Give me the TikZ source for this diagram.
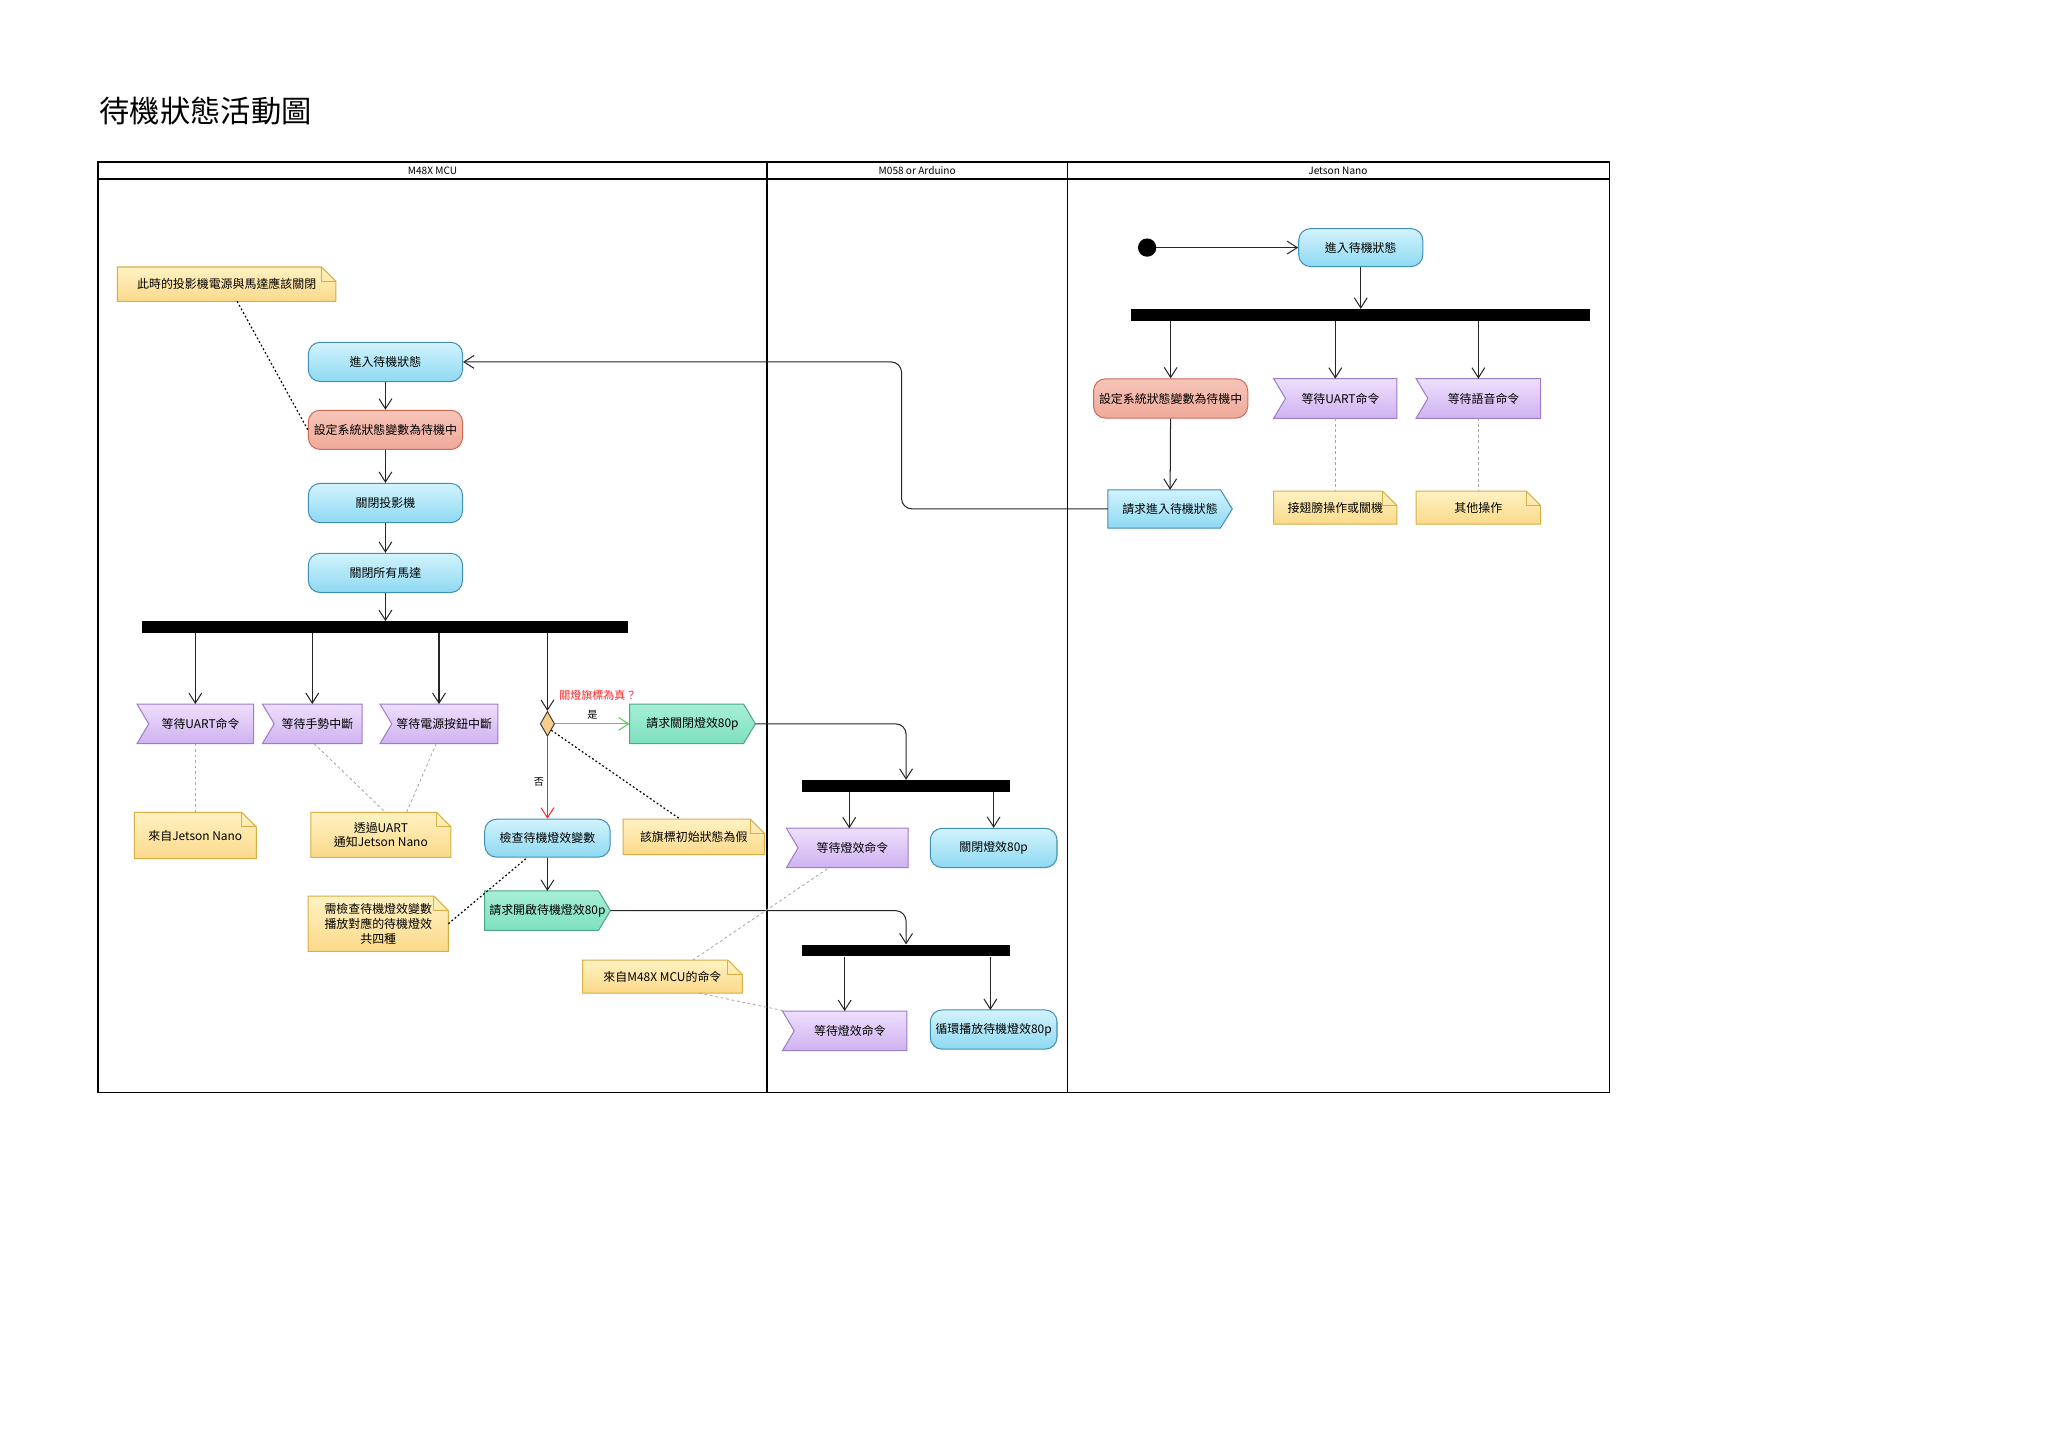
\documentclass[tikz,border=0pt]{standalone}
\usepackage{fontspec}
\setmainfont{Noto Sans CJK TC}
\usetikzlibrary{arrows.meta,backgrounds,calc,shapes.geometric}
\pgfdeclarelayer{bottom}
\pgfsetlayers{bottom,background,main}
\definecolor{bluefa}{HTML}{D2F3FC}\definecolor{bluefb}{HTML}{8ED9F2}\definecolor{bluedr}{HTML}{3F8EB5}
\definecolor{redfa}{HTML}{F6C4B8}\definecolor{redfb}{HTML}{EFAA9A}\definecolor{reddr}{HTML}{CF6A55}
\definecolor{purfa}{HTML}{EEDFFC}\definecolor{purfb}{HTML}{CFB2F0}\definecolor{purdr}{HTML}{9C7CCB}
\definecolor{grnfa}{HTML}{A6EFD6}\definecolor{grnfb}{HTML}{7EE0C0}\definecolor{grndr}{HTML}{4DA88A}
\definecolor{yelfa}{HTML}{FFF2C2}\definecolor{yelfb}{HTML}{FBD98A}\definecolor{yeldr}{HTML}{D9AE45}
\definecolor{diafill}{HTML}{F8CD8C}
\tikzset{
 txt/.style={font=\fontsize{13}{16}\selectfont, align=center, inner sep=0pt},
 act/.style={txt, draw=bluedr, line width=1.1pt, rounded corners=0.45cm, top color=bluefa, bottom color=bluefb},
 actred/.style={txt, draw=reddr, line width=1.1pt, rounded corners=0.45cm, top color=redfa, bottom color=redfb},
 plain/.style={txt},
 rcvst/.style={draw=purdr, line width=1.1pt, top color=purfa, bottom color=purfb},
 sndg/.style={draw=grndr, line width=1.1pt, top color=grnfa, bottom color=grnfb},
 sndb/.style={draw=bluedr, line width=1.1pt, top color=bluefa, bottom color=bluefb},
 notest/.style={draw=yeldr, line width=1.1pt, top color=yelfa, bottom color=yelfb},
 bar/.style={fill=black, inner sep=0pt},
 arr/.style={-{Straight Barb[length=11pt,width=14pt]}, line width=1.1pt, draw=black!85},
 notelink/.style={dash pattern=on 2pt off 2.5pt, line width=1.3pt},
 greylink/.style={dashed, draw=black!35, line width=0.9pt},
 lane/.style={draw, line width=1.6pt},
}
\newcommand\rcvshape[1]{\begin{scope}[on background layer]\path[rcvst] (#1.north west) -- (#1.north east) -- (#1.south east) -- (#1.south west) -- ([xshift=0.45cm]#1.west) -- cycle;\end{scope}}
\newcommand\sndshape[2]{\begin{scope}[on background layer]\path[#2] (#1.north west) -- ([xshift=-0.45cm]#1.north east) -- (#1.east) -- ([xshift=-0.45cm]#1.south east) -- (#1.south west) -- cycle;\end{scope}}
\newcommand\noteshape[1]{\begin{scope}[on background layer]\path[notest] (#1.north west) -- ([xshift=-0.55cm]#1.north east) -- ([yshift=-0.55cm]#1.north east) -- (#1.south east) -- (#1.south west) -- cycle;
\draw[yeldr, line width=1.1pt] ([xshift=-0.55cm]#1.north east) -- ([xshift=-0.55cm,yshift=-0.55cm]#1.north east) -- ([yshift=-0.55cm]#1.north east);\end{scope}}
\begin{document}
\begin{tikzpicture}[x=0.05cm,y=-0.05cm]
\begin{pgfonlayer}{bottom}\fill[white] (0,0) rectangle (1567.5,1107.8);\end{pgfonlayer}
\useasboundingbox (0,0) rectangle (1567.5,1107.8);
% title
\node[anchor=west, font=\fontsize{33}{36}\selectfont, inner sep=0pt] (title) at (76,85) {待機狀態活動圖};
% lanes
\draw[lane] (75,124) rectangle (1232,836);
\draw[lane] (75,137) -- (1232,137);
\draw[lane] (587,124) -- (587,836);
\draw[lane] (817,124) -- (817,836);
\node[font=\fontsize{11}{12}\selectfont] (l1) at (331,130.5) {M48X MCU};
\node[font=\fontsize{11}{12}\selectfont] (l2) at (702,130.5) {M058 or Arduino};
\node[font=\fontsize{11}{12}\selectfont] (l3) at (1024,130.5) {Jetson Nano};

% ---- left lane
\node[plain, minimum width=8.35cm, minimum height=1.3cm] (n1) at (173.5,217.5) {此時的投影機電源與馬達應該關閉}; \noteshape{n1}
\node[act, minimum width=5.9cm, minimum height=1.5cm] (a1) at (295,277) {進入待機狀態};
\node[actred, minimum width=5.9cm, minimum height=1.5cm] (a2) at (295,329) {設定系統狀態變數為待機中};
\node[act, minimum width=5.9cm, minimum height=1.5cm] (a3) at (295,385) {關閉投影機};
\node[act, minimum width=5.9cm, minimum height=1.5cm] (a4) at (295,438.5) {關閉所有馬達};
\node[bar, minimum width=18.6cm, minimum height=0.45cm] (f1) at (295,480) {};
\node[plain, minimum width=4.45cm, minimum height=1.5cm] (r1) at (149.5,554) {\hspace{0.4cm}等待UART命令}; \rcvshape{r1}
\node[plain, minimum width=3.8cm, minimum height=1.5cm] (r2) at (239,554) {\hspace{0.4cm}等待手勢中斷}; \rcvshape{r2}
\node[plain, minimum width=4.5cm, minimum height=1.5cm] (r3) at (336,554) {\hspace{0.4cm}等待電源按鈕中斷}; \rcvshape{r3}
\node[draw=black!80, fill=diafill, line width=1pt, shape=diamond, aspect=0.55, minimum width=0.55cm, minimum height=0.95cm, inner sep=0pt] (d) at (419,554) {};
\node[plain, minimum width=4.8cm, minimum height=1.5cm] (s1) at (530,554) {請求關閉燈效80p}; \sndshape{s1}{sndg}
\node[act, minimum width=4.8cm, minimum height=1.45cm] (b1) at (419,641.5) {檢查待機燈效變數};
\node[plain, minimum width=4.8cm, minimum height=1.5cm] (s2) at (419,697) {請求開啟待機燈效80p}; \sndshape{s2}{sndg}
\node[plain, minimum width=4.65cm, minimum height=1.75cm] (n2) at (149.5,639.5) {來自Jetson Nano}; \noteshape{n2}
\node[plain, minimum width=5.35cm, minimum height=1.7cm] (n3) at (291.5,639) {透過UART\\通知Jetson Nano}; \noteshape{n3}
\node[plain, minimum width=5.4cm, minimum height=1.35cm] (n4) at (531,640.5) {該旗標初始狀態為假}; \noteshape{n4}
\node[plain, minimum width=5.35cm, minimum height=2.1cm] (n5) at (289.5,707) {需檢查待機燈效變數\\播放對應的待機燈效\\共四種}; \noteshape{n5}
\node[plain, minimum width=6.1cm, minimum height=1.25cm] (n6) at (507,747.5) {來自M48X MCU的命令}; \noteshape{n6}

\draw[arr] (a1) -- (a2);
\draw[arr] (a2) -- (a3);
\draw[arr] (a3) -- (a4);
\draw[arr] (a4) -- (f1);
\draw[arr] (f1.south -| r1.north) -- (r1.north);
\draw[arr] (f1.south -| r2.north) -- (r2.north);
\draw[arr] (f1.south -| r3.north) -- (r3.north);
\draw[arr] (f1.south -| d.north) -- (d.north);
\draw[arr, draw=green!75!black!70] (d.east) -- node[above, font=\fontsize{11}{12}\selectfont, pos=0.5, yshift=1pt] (yes) {是} (s1.west);
\draw[arr, draw=red!85] (d.south) -- node[left, font=\fontsize{11}{12}\selectfont, pos=0.55] (no) {否} (b1.north);
\node[anchor=south west, text=red!85, font=\fontsize{12}{13}\selectfont, inner sep=0pt] (q) at (428,536) {關燈旗標為真？};
\draw[arr] (b1) -- (s2);
\draw[notelink] (n1.south) ++(8,0) coordinate (n1a) -- (a2.west);
\draw[notelink] (d.south east) -- ([xshift=-15]n4.north);
\draw[notelink] (n5.east) -- ([xshift=-22]b1.south);
\draw[greylink] (r1.south) -- (n2.north);
\draw[greylink] ([xshift=2]r2.south) -- ([xshift=5]n3.north);
\draw[greylink] ([xshift=-3]r3.south) -- ([xshift=28]n3.north);

% ---- middle lane
\node[bar, minimum width=7.95cm, minimum height=0.45cm] (f2) at (693.5,601.5) {};
\node[plain, minimum width=4.65cm, minimum height=1.5cm] (r4) at (648.5,649) {\hspace{0.4cm}等待燈效命令}; \rcvshape{r4}
\node[act, minimum width=4.85cm, minimum height=1.5cm] (a5) at (760.5,649) {關閉燈效80p};
\node[bar, minimum width=7.95cm, minimum height=0.45cm] (f3) at (693.5,727.5) {};
\node[plain, minimum width=4.75cm, minimum height=1.5cm] (r5) at (646.5,789) {\hspace{0.4cm}等待燈效命令}; \rcvshape{r5}
\node[act, minimum width=4.85cm, minimum height=1.5cm] (a6) at (760.5,788) {循環播放待機燈效80p};
\draw[arr, rounded corners=0.4cm] (s1.east) -| (f2.north);
\draw[arr, rounded corners=0.4cm] (s2.east) -| (f3.north);
\draw[arr] (f2.south -| 650,0) -- (650,634);
\draw[arr] (f2.south -| a5.north) -- (a5.north);
\draw[arr] (f3.south -| r5.north) -- (r5.north);
\draw[arr] (f3.south -| 758,0) -- (758,773);
\draw[greylink] ([xshift=33]n6.north) -- ([xshift=-20]r4.south);
\draw[greylink] ([xshift=40]n6.south) -- ([xshift=3]r5.north west);

% ---- right lane
\node[circle, fill=black, minimum size=0.7cm, inner sep=0pt] (st) at (878,189.5) {};
\node[act, minimum width=4.75cm, minimum height=1.45cm] (a7) at (1041.5,189.5) {進入待機狀態};
\node[bar, minimum width=17.55cm, minimum height=0.45cm] (f4) at (1041.5,241) {};
\node[actred, minimum width=5.9cm, minimum height=1.5cm] (a8) at (896,305) {設定系統狀態變數為待機中};
\node[plain, minimum width=4.7cm, minimum height=1.5cm] (r6) at (1022,305) {\hspace{0.4cm}等待UART命令}; \rcvshape{r6}
\node[plain, minimum width=4.75cm, minimum height=1.5cm] (r7) at (1131.5,305) {\hspace{0.4cm}等待語音命令}; \rcvshape{r7}
\node[plain, minimum width=4.75cm, minimum height=1.45cm] (s3) at (895.5,389.5) {請求進入待機狀態}; \sndshape{s3}{sndb}
\node[plain, minimum width=4.7cm, minimum height=1.25cm] (n7) at (1022,388.5) {接翅膀操作或關機}; \noteshape{n7}
\node[plain, minimum width=4.75cm, minimum height=1.25cm] (n8) at (1131.5,388.5) {其他操作}; \noteshape{n8}
\draw[arr] (st) -- (a7);
\draw[arr] (a7) -- (f4);
\draw[arr] (f4.south -| a8.north) -- (a8.north);
\draw[arr] (f4.south -| r6.north) -- (r6.north);
\draw[arr] (f4.south -| r7.north) -- (r7.north);
\draw[arr] (a8) -- (s3);
\draw[greylink] (r6.south) -- (n7.north);
\draw[greylink] (r7.south) -- (n8.north);
\draw[arr, rounded corners=0.4cm] (s3.west) -| (690,320) |- (a1.east);
\end{tikzpicture}
\end{document}
